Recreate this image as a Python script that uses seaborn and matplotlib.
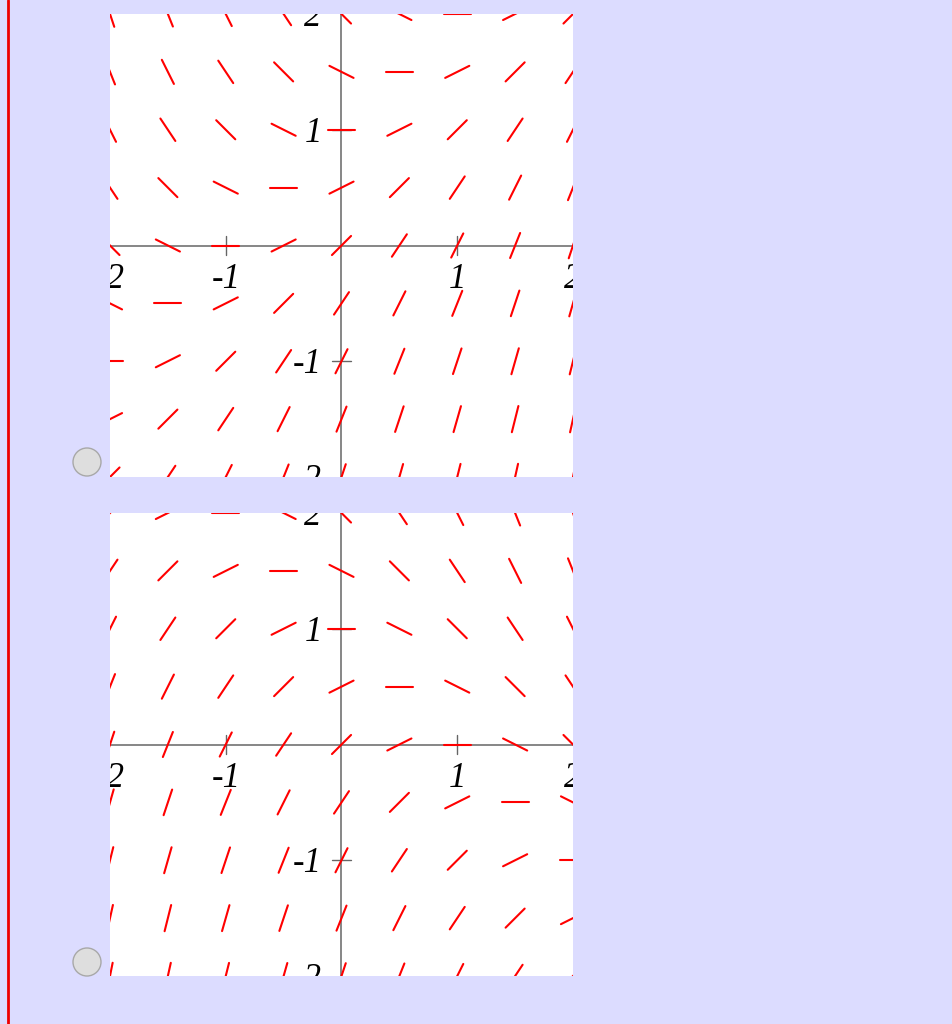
import math
import pandas as pd
import seaborn as sns
import matplotlib.pyplot as plt
from matplotlib import font_manager
from matplotlib.font_manager import FontProperties
from matplotlib.patches import Circle

# grid of the slope fields (columns = x, rows = y from top to bottom)
x_vals = [-2, -1.5, -1, -0.5, 0, 0.5, 1, 1.5, 2]
y_vals = [2, 1.5, 1, 0.5, 0, -0.5, -1, -1.5, -2]

# slopes
slopes_top = [
    [-3, -2.5, -2, -1.5, -1, -0.5, 0, 0.5, 1],
    [-2.5, -2, -1.5, -1, -0.5, 0, 0.5, 1, 1.5],
    [-2, -1.5, -1, -0.5, 0, 0.5, 1, 1.5, 2],
    [-1.5, -1, -0.5, 0, 0.5, 1, 1.5, 2, 2.5],
    [-1, -0.5, 0, 0.5, 1, 1.5, 2, 2.5, 3],
    [-0.5, 0, 0.5, 1, 1.5, 2, 2.5, 3, 3.5],
    [0, 0.5, 1, 1.5, 2, 2.5, 3, 3.5, 4],
    [0.5, 1, 1.5, 2, 2.5, 3, 3.5, 4, 4.5],
    [1, 1.5, 2, 2.5, 3, 3.5, 4, 4.5, 5],
]

# slopes
slopes_bottom = [
    [1, 0.5, 0, -0.5, -1, -1.5, -2, -2.5, -3],
    [1.5, 1, 0.5, 0, -0.5, -1, -1.5, -2, -2.5],
    [2, 1.5, 1, 0.5, 0, -0.5, -1, -1.5, -2],
    [2.5, 2, 1.5, 1, 0.5, 0, -0.5, -1, -1.5],
    [3, 2.5, 2, 1.5, 1, 0.5, 0, -0.5, -1],
    [3.5, 3, 2.5, 2, 1.5, 1, 0.5, 0, -0.5],
    [4, 3.5, 3, 2.5, 2, 1.5, 1, 0.5, 0],
    [4.5, 4, 3.5, 3, 2.5, 2, 1.5, 1, 0.5],
    [5, 4.5, 4, 3.5, 3, 2.5, 2, 1.5, 1],
]

x_tick_labels = {-2: '-2', -1: '-1', 1: '1', 2: '2'}
y_tick_labels = {2: '2', 1: '1', -1: '-1', -2: '-2'}

HALF = 0.1166  # half length of a slope mark, data units


def italic_serif():
    # look up a Times-like italic file directly
    for fam in ['Liberation Serif', 'Tinos', 'Times New Roman', 'Noto Serif', 'DejaVu Serif']:
        for f in font_manager.fontManager.ttflist:
            if f.name == fam and f.style == 'italic' and f.weight in (400, 'normal'):
                return FontProperties(fname=f.fname, size=25)
    return FontProperties(family='serif', style='italic', size=25)


def segments(slopes):
    rows = []
    k = 0
    for yv, row in zip(y_vals, slopes):
        for xv, s in zip(x_vals, row):
            dx = HALF / math.sqrt(1 + s * s)
            dy = s * dx
            rows.append({'seg': k, 'x': xv - dx, 'y': yv - dy})
            rows.append({'seg': k, 'x': xv + dx, 'y': yv + dy})
            k += 1
    return pd.DataFrame(rows)


def draw_field(ax, slopes, fp):
    ax.set_facecolor('white')
    ax.set_xlim(-2, 2)
    ax.set_ylim(-2, 2)
    for sp in ax.spines.values():
        sp.set_visible(False)

    ax.axhline(0, color='#666666', lw=1.1, zorder=1)
    ax.axvline(0, color='#666666', lw=1.1, zorder=1)
    t = 0.08
    for v in (-1, 1):
        ax.plot([v, v], [-t, t], color='#666666', lw=1.0, zorder=1)
        ax.plot([-t, t], [v, v], color='#666666', lw=1.0, zorder=1)

    df = segments(slopes)
    sns.lineplot(data=df, x='x', y='y', units='seg', estimator=None,
                 color='#ff0000', lw=1.5, legend=False, ax=ax, zorder=3)

    for v, lab in x_tick_labels.items():
        ax.text(v, -0.363, lab, ha='center', va='baseline', fontproperties=fp,
                color='black', clip_on=True, zorder=2)
    for v, lab in y_tick_labels.items():
        ax.text(-0.17, v - 0.105, lab, ha='right', va='baseline', fontproperties=fp,
                color='black', clip_on=True, zorder=2)

    ax.set_xticks([])
    ax.set_yticks([])
    ax.set_xlabel('')
    ax.set_ylabel('')


sns.set_style('white')
plt.rcParams['font.family'] = ['Liberation Serif', 'DejaVu Serif']
label_font = italic_serif()

W, H = 953, 1024
fig = plt.figure(figsize=(W / 100, H / 100), dpi=100)
fig.patch.set_facecolor('#dcdcff')

# page decorations: red rule and radio buttons
bg = fig.add_axes([0, 0, 1, 1], zorder=0)
bg.set_xlim(0, W)
bg.set_ylim(H, 0)
bg.set_axis_off()
bg.plot([8.5, 8.5], [0, H], color='#ee0000', lw=2.0)
for cy in (462, 962):
    bg.add_patch(Circle((87, cy), 14, facecolor='#dedede', edgecolor='#a8a8a8', lw=1.0))

ax1 = fig.add_axes([110 / W, 1 - 477 / H, 463 / W, 463 / H], zorder=1)
draw_field(ax1, slopes_top, label_font)

ax2 = fig.add_axes([110 / W, 1 - 976 / H, 463 / W, 463 / H], zorder=1)
draw_field(ax2, slopes_bottom, label_font)

fig.savefig('out.png', dpi=100, facecolor=fig.get_facecolor())
